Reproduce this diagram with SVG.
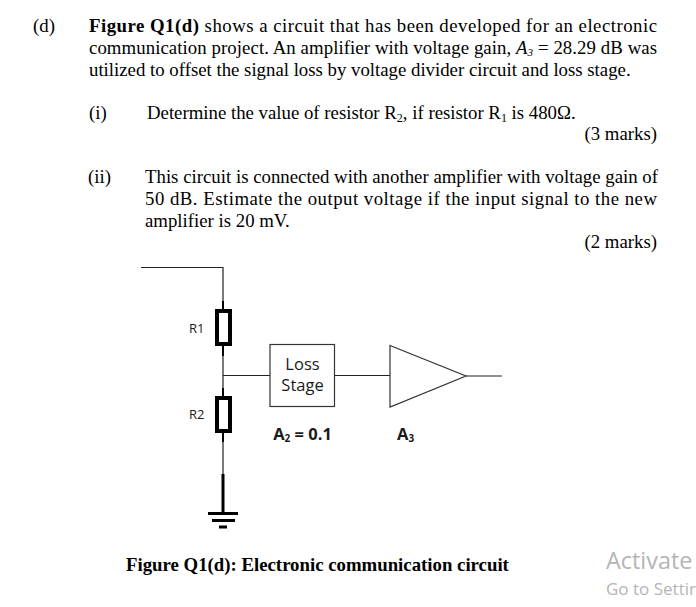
<svg xmlns="http://www.w3.org/2000/svg" width="696" height="607" viewBox="0 0 696 607">
<style>
.t{font-family:"Liberation Serif",serif;font-size:18.8px;fill:#000}
.b{font-weight:bold}
.c{font-family:"Open Sans","Noto Sans",sans-serif;fill:#1a1a1a}
.w{stroke:#222;stroke-width:1.2;fill:none}
.r{fill:#fff;stroke:#000;stroke-width:4}
.h{stroke:#000;fill:none}
</style>
<rect width="696" height="607" fill="#fff"/>
<g id="text">
<text class="t" x="33" y="32">(d)</text>
<text class="t" x="89" y="32" textLength="568" lengthAdjust="spacing"><tspan class="b">Figure Q1(d)</tspan> shows a circuit that has been developed for an electronic</text>
<text class="t" x="89" y="54" textLength="568" lengthAdjust="spacing">communication project. An amplifier with voltage gain, <tspan font-style="italic">A</tspan><tspan font-style="italic" font-size="11" dy="2">3</tspan><tspan dy="-2"> = 28.29 dB was</tspan></text>
<text class="t" x="89" y="75.500">utilized to offset the signal loss by voltage divider circuit and loss stage.</text>
<text class="t" x="89" y="119">(i)</text>
<text class="t" x="147" y="119">Determine the value of resistor R<tspan font-size="12" dy="3">2</tspan><tspan dy="-3">, if resistor R</tspan><tspan font-size="12" dy="3">1</tspan><tspan dy="-3"> is 480Ω.</tspan></text>
<text class="t" x="657" y="140" text-anchor="end">(3 marks)</text>
<text class="t" x="88" y="183">(ii)</text>
<text class="t" x="145" y="183" textLength="513" lengthAdjust="spacing">This circuit is connected with another amplifier with voltage gain of</text>
<text class="t" x="145" y="205" textLength="512" lengthAdjust="spacing">50 dB. Estimate the output voltage if the input signal to the new</text>
<text class="t" x="145" y="227">amplifier is 20 mV.</text>
<text class="t" x="657" y="248" text-anchor="end">(2 marks)</text>
<text class="t b" x="126" y="571">Figure Q1(d): Electronic communication circuit</text>
</g>
<g id="connectors">
<path class="w" d="M141 267.500H223V302"/>
<path class="w" d="M223 346V388M223 375.500H270M335 375.500H390M466 376H502M223 433V474"/>
</g>
<g id="R1">
<rect class="r" x="217" y="311" width="13" height="33"/>
<path class="h" stroke-width="2" d="M223 301V311M223 344V356"/>
<text class="c" x="189" y="333" font-size="13">R1</text>
</g>
<g id="R2">
<rect class="r" x="217" y="398" width="13" height="33"/>
<path class="h" stroke-width="2" d="M223 388V398M223 431V442"/>
<text class="c" x="189" y="419" font-size="13">R2</text>
</g>
<g id="loss-stage">
<rect x="270" y="344.500" width="64.500" height="62" fill="#fff" stroke="#333" stroke-width="1.200"/>
<text class="c" x="302.500" y="370" font-size="16.500" text-anchor="middle">Loss</text>
<text class="c" x="302.500" y="391" font-size="16.500" text-anchor="middle">Stage</text>
<text class="c" x="302.500" y="440" font-size="16.500" font-weight="bold" text-anchor="middle">A<tspan font-size="10" dy="2">2</tspan><tspan dy="-2"> = 0.1</tspan></text>
</g>
<g id="amplifier">
<path d="M390 345.500L466 376L390 407Z" fill="#fff" stroke="#333" stroke-width="1.200"/>
<text class="c" x="397" y="440" font-size="16.500" font-weight="bold">A<tspan font-size="10" dy="2">3</tspan></text>
</g>
<g id="ground">
<path class="h" stroke-width="3" d="M223 474V513"/>
<path class="h" stroke-width="3" d="M208 513.500H238M212 520.500H235M219 527H227"/>
</g>
<g id="watermark">
<text x="606" y="569" font-family="'Open Sans','Noto Sans',sans-serif" font-size="23.400" fill="#b5b5b5">Activate</text>
<text x="606" y="595" font-family="'Open Sans','Noto Sans',sans-serif" font-size="17" fill="#b5b5b5">Go to Settir</text>
</g>
</svg>
